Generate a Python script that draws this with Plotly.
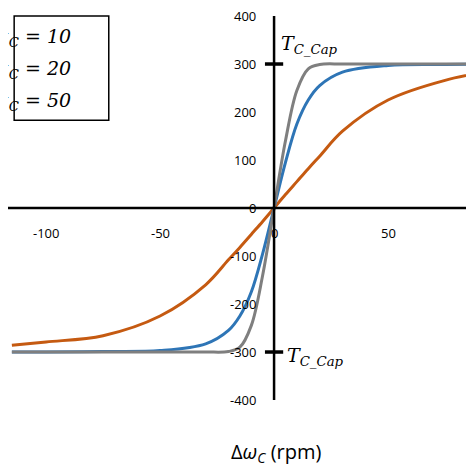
import plotly.graph_objects as go

x_pts = [-115, -100, -75, -50, -30, -20, -15, -10, -5, 0, 5, 10, 15, 20, 30, 50, 75, 95]
t_alpha10 = [-286, -279, -266, -225, -160, -108, -82, -55, -28, 0, 28, 55, 82, 108, 160, 225, 266, 285]
t_alpha20 = [-300, -300, -299, -297, -283, -255, -225, -175, -95, 0, 95, 175, 225, 255, 283, 297, 299, 300]
t_alpha50 = [-300, -300, -300, -300, -300, -299, -290, -245, -140, 0, 140, 245, 290, 299, 300, 300, 300, 300]
y_ticks = [400, 300, 200, 100, 0, -100, -200, -300, -400]
x_ticks = [-100, -50, 0, 50]
legend_labels = ["α<sub>C</sub> = 10", "α<sub>C</sub> = 20", "α<sub>C</sub> = 50"]

fig = go.Figure()
fig.add_trace(go.Scatter(x=x_pts, y=t_alpha10, mode="lines", line=dict(color="#C55A11", width=3, shape="spline")))
fig.add_trace(go.Scatter(x=x_pts, y=t_alpha20, mode="lines", line=dict(color="#2E75B6", width=3, shape="spline")))
fig.add_trace(go.Scatter(x=x_pts, y=t_alpha50, mode="lines", line=dict(color="#7F7F7F", width=3, shape="spline")))

shapes = [
    dict(type="line", xref="x", yref="y", x0=-120, x1=100, y0=0, y1=0, line=dict(color="black", width=2.5)),
    dict(type="line", xref="x", yref="y", x0=0, x1=0, y0=-400, y1=400, line=dict(color="black", width=2.5)),
    dict(type="line", xref="x", yref="y", x0=-4, x1=4, y0=300, y1=300, line=dict(color="black", width=3.5)),
    dict(type="line", xref="x", yref="y", x0=-4, x1=4, y0=-300, y1=-300, line=dict(color="black", width=3.5)),
    dict(type="rect", xref="x", yref="y", x0=-114, x1=-72.5, y0=400, y1=183, line=dict(color="black", width=1.5)),
]
ann = []
tf = dict(family="Open Sans, DejaVu Sans", size=13, color="black")
for v in y_ticks:
    ann.append(dict(x=-7, y=v, xref="x", yref="y", text=str(v), showarrow=False, xanchor="right", font=tf))
for v in x_ticks:
    ann.append(dict(x=v, y=-52, xref="x", yref="y", text=str(v), showarrow=False, xanchor="center", font=tf))
mf = dict(family="DejaVu Serif", size=19, color="black")
for i, lab in enumerate(legend_labels):
    ann.append(dict(x=0, y=355 - i * 67, xref="paper", yref="y", text="<i>" + lab + "</i>", showarrow=False,
                    xanchor="left", xshift=-14, font=mf))
ann.append(dict(x=2, y=340, xref="x", yref="y", text="<i>T<sub>C_Cap</sub></i>", showarrow=False, xanchor="left", font=mf))
ann.append(dict(x=5, y=-310, xref="x", yref="y", text="<i>T<sub>C_Cap</sub></i>", showarrow=False, xanchor="left", font=mf))
ann.append(dict(x=1, y=-510, xref="x", yref="y", text="Δ<i>ω<sub>C</sub></i> (rpm)", showarrow=False, xanchor="center", font=dict(family="Open Sans, DejaVu Sans", size=20, color="black")))

fig.update_layout(
    width=474, height=474, margin=dict(l=0, r=0, t=0, b=0),
    paper_bgcolor="white", plot_bgcolor="white", showlegend=False,
    xaxis=dict(range=[-116.7, 91.2], visible=False, domain=[0, 1]),
    yaxis=dict(range=[-570.8, 416.7], visible=False, domain=[0, 1]),
    shapes=shapes, annotations=ann,
)
fig.write_html("out.html")
